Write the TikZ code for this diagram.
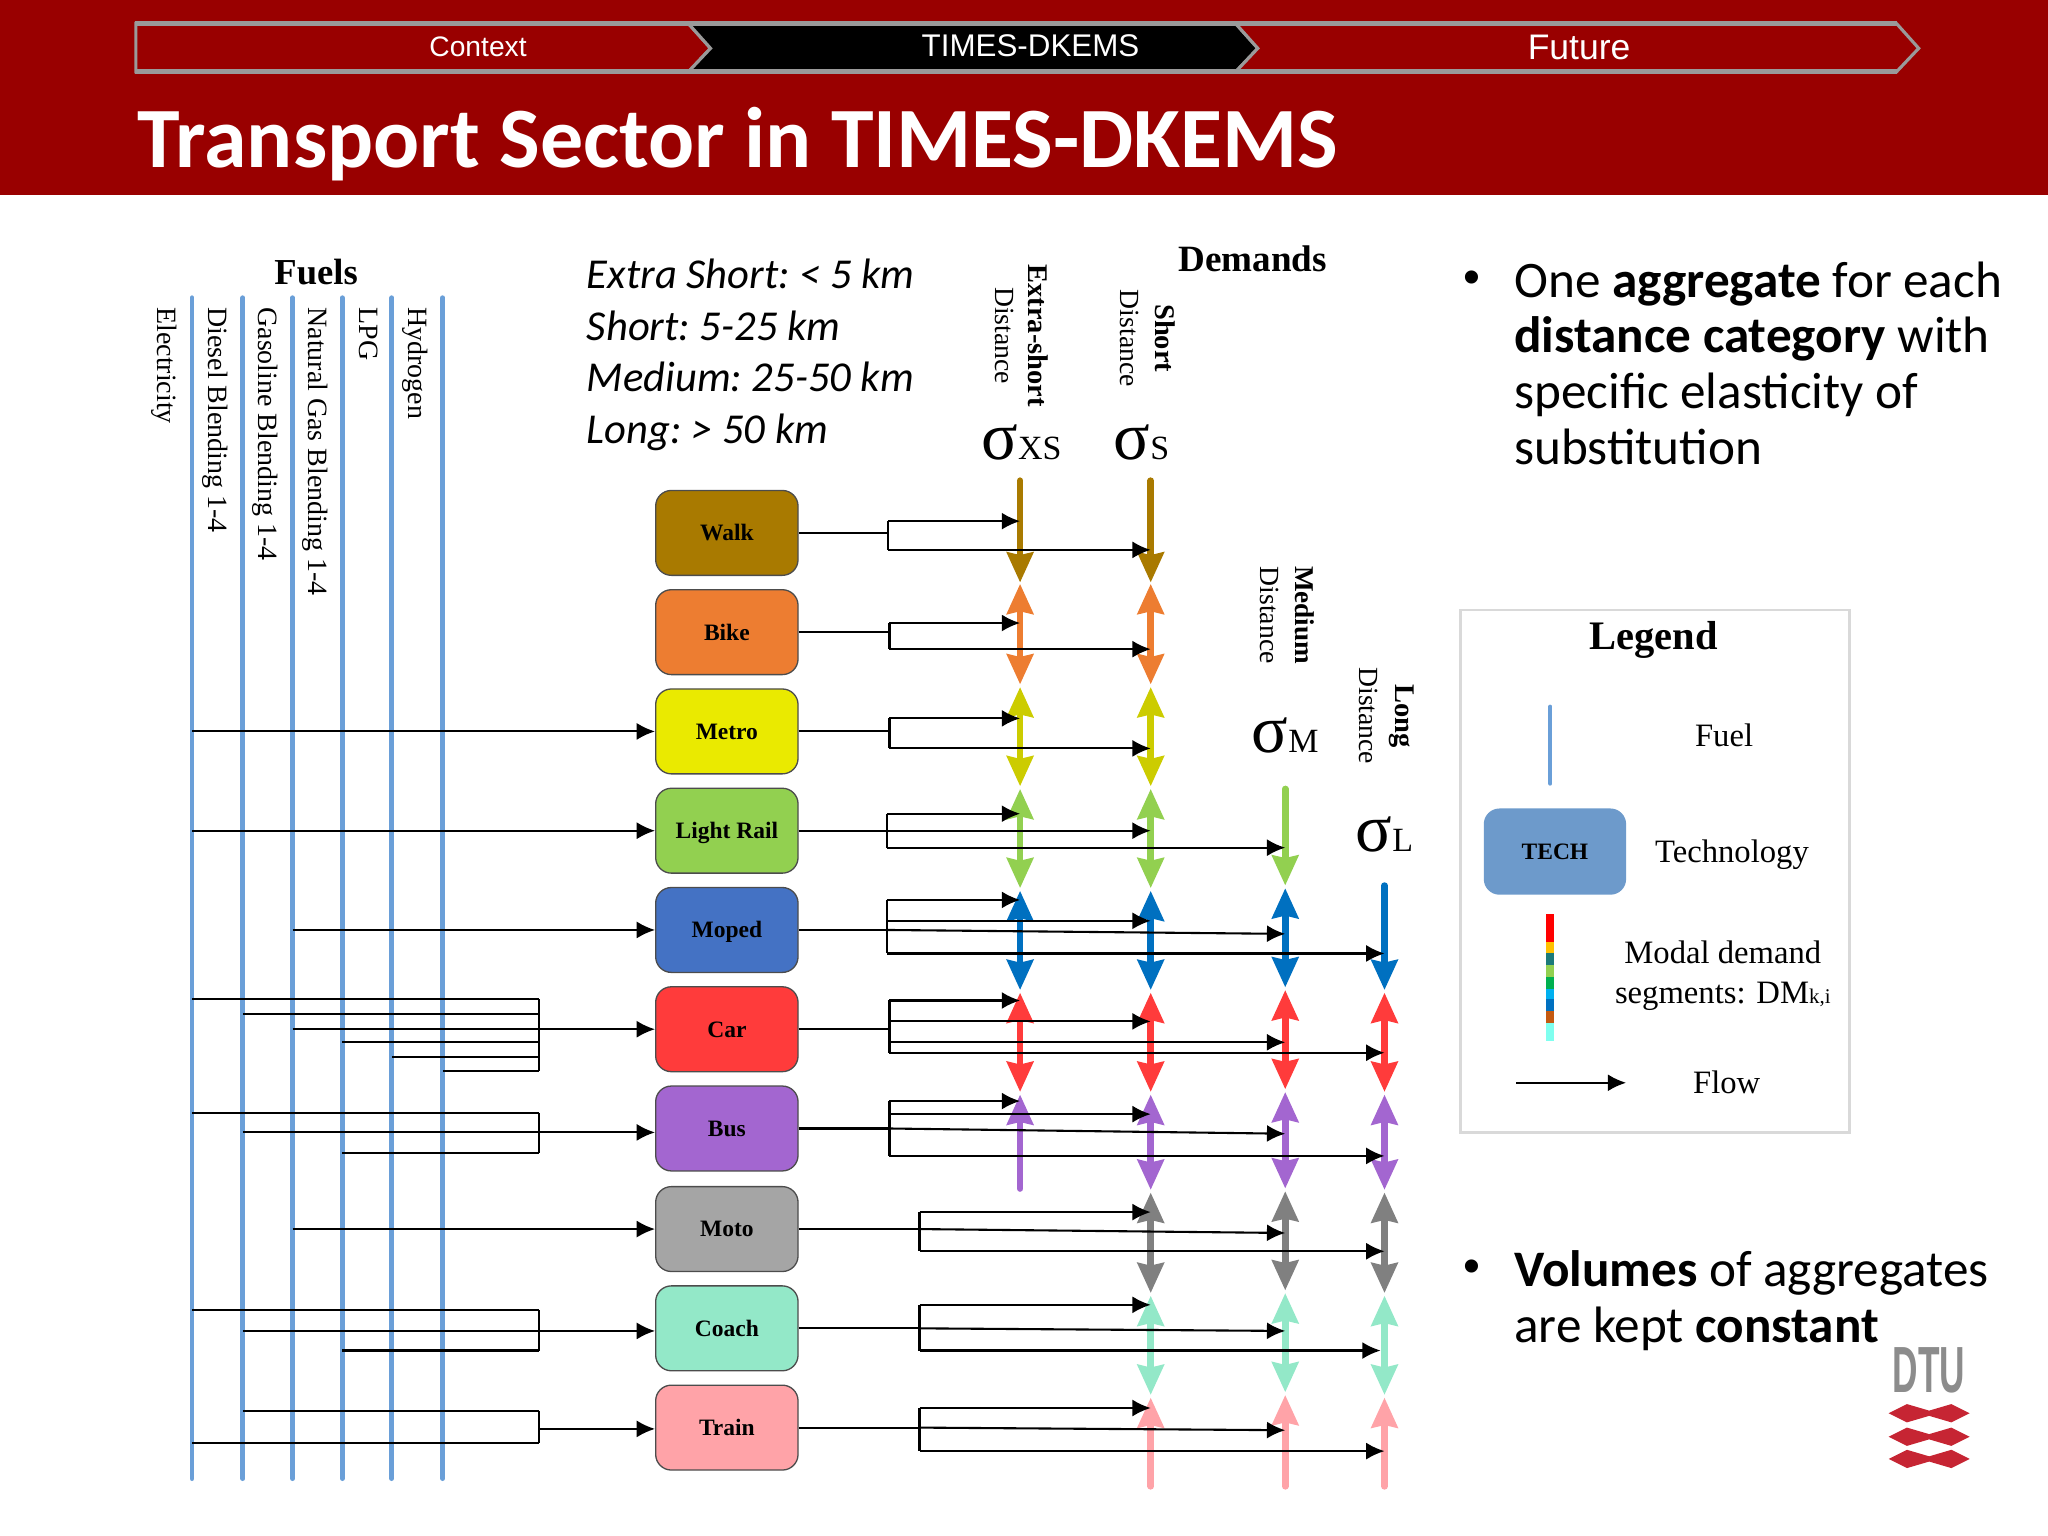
\documentclass[tikz,border=0pt]{standalone}
\usepackage{fontspec}
\usepackage{graphicx}
\setmainfont{Liberation Serif}
\newfontfamily\carlito{Carlito}
\newfontfamily\arialfont{Liberation Sans}
\usetikzlibrary{arrows.meta}
\definecolor{dtured}{HTML}{990000}
\definecolor{logored}{HTML}{C62533}
\definecolor{barline}{HTML}{9A9A9A}
\definecolor{fuelblue}{HTML}{6A9FD8}
\definecolor{walkc}{HTML}{A97A00}
\definecolor{bikec}{HTML}{ED7D31}
\definecolor{metroc}{HTML}{EAEA00}
\definecolor{metrod}{HTML}{CCCC00}
\definecolor{railc}{HTML}{92D050}
\definecolor{mopedc}{HTML}{4472C4}
\definecolor{mopedd}{HTML}{0070C0}
\definecolor{carc}{HTML}{FF3B3B}
\definecolor{busc}{HTML}{A366D0}
\definecolor{motoc}{HTML}{A5A5A5}
\definecolor{motod}{HTML}{808080}
\definecolor{coachc}{HTML}{93E8C8}
\definecolor{trainc}{HTML}{FFA3A8}
\tikzset{
 wire/.style={line width=0.8pt,black},
 flow/.style={wire,-{Latex[length=7pt,width=6.5pt]}},
 fuelline/.style={line width=1.9pt,fuelblue,line cap=round},
 techbox/.style={draw=black!70,line width=0.5pt,rounded corners=6pt,minimum width=54.5pt,minimum height=32.5pt,text height=6pt,text depth=0pt,font=\bfseries\fontsize{9}{9}\selectfont},
 crumb/.style={draw=barline,line width=1.2pt},
 crumbtext/.style={text=white,font=\arialfont\fontsize{12}{12}\selectfont},
 fuellabel/.style={rotate=-90,anchor=west,inner sep=0pt,font=\fontsize{10.7}{10.7}\selectfont},
 distlabel/.style={rotate=-90,font=\fontsize{10.6}{10.6}\selectfont},
 distbold/.style={rotate=-90,font=\bfseries\fontsize{10.9}{10.9}\selectfont},
 heading/.style={font=\bfseries\fontsize{15.5}{15.5}\selectfont},
 bodytext/.style={anchor=north west,align=left,inner sep=0pt,font=\carlito\fontsize{19.6}{21.3}\selectfont},
 bulletdot/.style={anchor=north west,inner sep=0pt,font=\arialfont\fontsize{18.5}{18.5}\selectfont},
 rangetext/.style={anchor=north west,align=left,inner sep=0pt,font=\frenchspacing\carlito\itshape\fontsize{16.3}{19.7}\selectfont},
 legendtext/.style={font=\fontsize{12.5}{15.5}\selectfont},
 both/.style={line width=2.5pt,color=#1,{Stealth[inset=1pt,length=11.5pt,width=10pt]}-{Stealth[inset=1pt,length=11.5pt,width=10pt]}},
 downward/.style={line width=2.5pt,color=#1,line cap=round,-{Stealth[inset=1pt,length=11.5pt,width=10pt]}},
 upward/.style={line width=2.5pt,color=#1,line cap=round,{Stealth[inset=1pt,length=11.5pt,width=10pt]}-},
}
\begin{document}
\begin{tikzpicture}[x=0.5pt,y=-0.5pt]
 \useasboundingbox (0,0) rectangle (1568,1176);
 \fill[dtured] (0,0) rectangle (1568,149);
 \draw[crumb,fill=dtured] (104,18)--(527,18)--(544,37)--(527,55)--(104,55)--cycle;
 \draw[crumb,fill=black] (527,18)--(946,18)--(963,37)--(946,55)--(527,55)--(544,37)--cycle;
 \draw[crumb,fill=dtured] (946,18)--(1452,18)--(1469,37)--(1452,55)--(946,55)--(963,37)--cycle;
 \draw[barline,line width=2pt] (103,18)--(1452,18);
 \draw[barline,line width=2pt] (103,55)--(1452,55);
 \node[crumbtext,font=\arialfont\fontsize{10.8}{10.8}\selectfont] (context) at (366,36) {Context};
 \node[crumbtext] (model) at (789,35) {TIMES-DKEMS};
 \node[crumbtext,font=\arialfont\fontsize{13.6}{13.6}\selectfont] (future) at (1209,36) {Future};
 \node[anchor=west,inner sep=0pt,text=white,font=\carlito\bfseries\fontsize{32.9}{32.9}\selectfont] (title) at (105,110) {Transport Sector in TIMES-DKEMS};

 \foreach \f/\x in {elec/147,dies/186,gaso/224,ngas/262,lpg/300,hydr/339}{
  \coordinate (\f-top) at (\x,228);
  \coordinate (\f-bot) at (\x,1132);
  \draw[fuelline] (\f-top)--(\f-bot);
 }
 \node[heading,font=\bfseries\fontsize{14}{14}\selectfont] (fuels) at (242,208) {Fuels};
 \node[fuellabel] (l-elec) at (126,235) {Electricity};
 \node[fuellabel] (l-dies) at (165,235) {Diesel Blending 1-4};
 \node[fuellabel] (l-gaso) at (203,235) {Gasoline Blending 1-4};
 \node[fuellabel] (l-ngas) at (241,235) {Natural Gas Blending 1-4};
 \node[fuellabel] (l-lpg) at (282,235) {LPG};
 \node[fuellabel] (l-hydr) at (318,235) {Hydrogen};

 \node[rangetext] (ranges) at (449,198) {Extra Short: < 5 km\\Short: 5-25 km\\Medium: 25-50 km\\Long: > 50 km};

 \node[heading,font=\bfseries\fontsize{14.2}{14.2}\selectfont] (demands) at (959,198) {Demands};
 \node[distbold] (d-xs) at (795,257) {Extra-short};
 \node[distlabel] (t-xs) at (769,257) {Distance};
 \node[distbold] (d-s) at (892,259) {Short};
 \node[distlabel] (t-s) at (865,259) {Distance};
 \node[distbold,font=\bfseries\fontsize{10.4}{10.4}\selectfont] (d-m) at (999,471) {Medium};
 \node[distlabel] (t-m) at (972,471) {Distance};
 \node[distbold] (d-l) at (1073,548) {Long};
 \node[distlabel] (t-l) at (1048,548) {Distance};
 \node (sig-xs) at (782,339) {\fontsize{26}{26}\selectfont σ\fontsize{13}{13}\selectfont XS};
 \node (sig-s) at (874,339) {\fontsize{26}{26}\selectfont σ\fontsize{13}{13}\selectfont S};
 \node (sig-m) at (984,563) {\fontsize{26}{26}\selectfont σ\fontsize{13}{13}\selectfont M};
 \node (sig-l) at (1060,639) {\fontsize{26}{26}\selectfont σ\fontsize{13}{13}\selectfont L};

 \coordinate (col-xs) at (781,0);
 \coordinate (col-s) at (881,0);
 \coordinate (col-m) at (984,0);
 \coordinate (col-l) at (1060,0);

 \draw[downward=walkc] (col-xs |- 0,368)--(col-xs |- 0,446);
 \draw[downward=walkc] (col-s |- 0,368)--(col-s |- 0,446);
 \draw[downward=railc] (col-m |- 0,604)--(col-m |- 0,678);
 \draw[downward=mopedd] (col-l |- 0,678)--(col-l |- 0,758);
 \draw[upward=busc] (col-xs |- 0,838)--(col-xs |- 0,910);
 \draw[upward=trainc] (col-s |- 0,1070)--(col-s |- 0,1138);
 \draw[upward=trainc] (col-m |- 0,1068)--(col-m |- 0,1138);
 \draw[upward=trainc] (col-l |- 0,1070)--(col-l |- 0,1138);
 \foreach \c/\ya/\yb/\k in {xs/447/524/bikec,xs/526/602/metrod,xs/604/680/railc,xs/682/758/mopedd,xs/760/836/carc,
  s/447/524/bikec,s/526/602/metrod,s/604/680/railc,s/682/758/mopedd,s/760/836/carc,s/838/911/busc,s/913/990/motod,s/992/1068/coachc,
  m/680/756/mopedd,m/758/834/carc,m/836/910/busc,m/912/988/motod,m/990/1066/coachc,
  l/760/836/carc,l/838/911/busc,l/913/990/motod,l/992/1068/coachc}{
  \draw[both=\k] (col-\c |- 0,\ya)--(col-\c |- 0,\yb);
 }

 \foreach \t/\y/\k/\s in {walk/408/walkc/Walk,bike/484/bikec/Bike,metro/560/metroc/Metro,rail/636/railc/Light Rail,moped/712/mopedc/Moped,
  car/788/carc/Car,bus/864/busc/Bus,moto/941/motoc/Moto,coach/1017/coachc/Coach,train/1093/trainc/Train}{
  \node[techbox,fill=\k] (\t) at (556.5,\y) {\s};
 }

 \draw[flow] (elec-top |- metro.west)--(metro.west);
 \draw[flow] (elec-top |- rail.west)--(rail.west);
 \draw[flow] (gaso-top |- moped.west)--(moped.west);
 \draw[flow] (gaso-top |- moto.west)--(moto.west);

 \coordinate (car-join) at (413,788);
 \coordinate (bus-join) at (413,867);
 \coordinate (coach-join) at (413,1019);
 \coordinate (train-join) at (413,1094);
 \foreach \f/\t/\y in {elec/car/765,dies/car/776,gaso/car/788,ngas/car/798,lpg/car/809,hydr/car/820,
  elec/bus/852,dies/bus/867,ngas/bus/883,
  elec/coach/1003,dies/coach/1019,ngas/coach/1034,
  dies/train/1080,elec/train/1105}{
  \draw[wire] (\f-top |- 0,\y)--(\t-join |- 0,\y);
 }
 \draw[wire] (car-join |- 0,765)--(car-join |- 0,820);
 \draw[wire] (bus-join |- 0,852)--(bus-join |- 0,883);
 \draw[wire] (coach-join |- 0,1003)--(coach-join |- 0,1034);
 \draw[wire] (train-join |- 0,1080)--(train-join |- 0,1105);
 \foreach \t in {car,bus,coach,train}{
  \draw[flow] (\t-join)--(\t.west |- \t-join);
 }

 \foreach \t/\x/\ya/\yb in {walk/680/399/421,bike/681/477/497,metro/681/550/573,rail/679/623/649,moped/679/689/730,
  car/681/766/806,bus/681/843/885,moto/704/928/958,coach/704/999/1034,train/704/1078/1111}{
  \coordinate (\t-split) at (\t.east -| \x,0);
  \draw[wire] (\t.east)--(\t-split);
  \draw[wire] (\x,\ya)--(\x,\yb);
 }
 \foreach \t/\c/\y in {walk/xs/399,walk/s/421,bike/xs/477,bike/s/497,metro/xs/550,metro/s/573,
  rail/xs/623,rail/m/649,moped/xs/689,moped/s/705,moped/l/730,
  car/xs/766,car/s/782,car/m/798,car/l/806,bus/xs/843,bus/s/853,bus/l/885,
  moto/s/928,moto/l/958,coach/s/999,train/s/1078,train/l/1111}{
  \draw[flow] (\t-split |- 0,\y)--(col-\c |- 0,\y);
 }
 \draw[flow] (coach-split |- 0,1034)--(1057,1034);
 \draw[flow] (rail-split)--(col-s |- rail-split);
 \draw[flow] (moped-split)--(col-m |- 0,715);
 \draw[flow] (bus-split)--(col-m |- 0,868);
 \draw[flow] (moto-split)--(col-m |- 0,944);
 \draw[flow] (coach-split)--(col-m |- 0,1019);
 \draw[flow] (train-split)--(col-m |- 0,1095);

 \node[bulletdot] (bullet-a) at (1120,207) {•};
 \node[bodytext] (aggregate) at (1159,200) {One \textbf{aggregate} for each\\\textbf{distance category} with\\specific elasticity of\\substitution};
 \node[bulletdot] (bullet-b) at (1120,964) {•};
 \node[bodytext] (volumes) at (1159,957) {\textbf{Volumes} of aggregates\\are kept \textbf{constant}};

 \draw[draw=black!15,line width=1pt,fill=white] (1118,467) rectangle (1416,867);
 \node[heading] (legend) at (1266,490) {Legend};
 \coordinate (key-fuel-top) at (1187,541);
 \coordinate (key-fuel-bot) at (1187,600);
 \draw[fuelline,line width=1.5pt] (key-fuel-top)--(key-fuel-bot);
 \node[legendtext] (key-fuel) at (1320,563) {Fuel};
 \node[draw=none,fill=fuelblue!85!gray,rounded corners=6pt,minimum width=54.5pt,minimum height=33pt,font=\bfseries\fontsize{9}{9}\selectfont] (tech) at (1190.5,652) {TECH};
 \node[legendtext] (key-tech) at (1326,654) {Technology};
 \foreach \ya/\yb/\k in {700/721/FF0000,721/730/FFC000,730/739/1B7A7A,739/748/92D050,748/757/00B050,757/765/00B0F0,765/774/0070C0,774/783/C55A11,783/797/7FFFEF}{
  \definecolor{segc}{HTML}{\k}
  \fill[segc] (1184,\ya) rectangle (1190,\yb);
 }
 \node[legendtext,align=center] (key-modal) at (1319,747) {Modal demand\\segments: DM{\fontsize{8}{8}\selectfont k,i}};
 \coordinate (key-flow-a) at (1161,829);
 \coordinate (key-flow-b) at (1245,829);
 \draw[flow] (key-flow-a)--(key-flow-b);
 \node[legendtext] (key-flowtext) at (1322,829) {Flow};

 \node[inner sep=0pt,text=black!45,font=\arialfont\bfseries\fontsize{25}{25}\selectfont] (dtu) at (1477,1049) {\scalebox{0.54}[1]{DTU}};
 \foreach \y in {1082,1100,1117}{
  \fill[logored] (1446,\y)--(1460,\y-7)--(1477,\y-2)--(1494,\y-7)--(1508,\y)--(1494,\y+7)--(1477,\y+2)--(1460,\y+7)--cycle;
 }
\end{tikzpicture}
\end{document}
